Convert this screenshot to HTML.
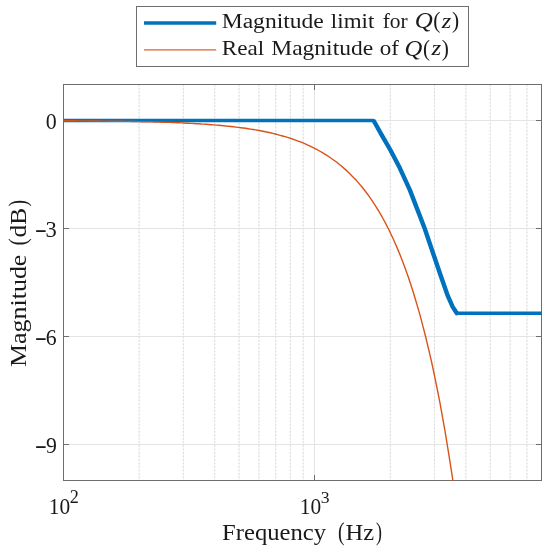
<!DOCTYPE html>
<html lang="en"><head><meta charset="utf-8"><title>Magnitude plot</title>
<style>html,body{margin:0;padding:0;background:#fff;}svg{display:block;}text{font-family:"Liberation Serif","DejaVu Serif",serif;fill:#1a1a1a;}.it{font-style:italic;}</style></head><body>
<svg width="547" height="550" viewBox="0 0 547 550">
<rect x="0" y="0" width="547" height="550" fill="#ffffff"/>
<g fill="none" stroke-width="1">
<path d="M139.11 84.5V480.5M183.34 84.5V480.5M214.72 84.5V480.5M239.06 84.5V480.5M258.95 84.5V480.5M275.76 84.5V480.5M290.33 84.5V480.5M303.18 84.5V480.5M390.28 84.5V480.5M434.51 84.5V480.5M465.89 84.5V480.5M490.23 84.5V480.5M510.12 84.5V480.5M526.93 84.5V480.5" stroke="#f4f4f4"/>
<path d="M139.11 84.5V480.5M183.34 84.5V480.5M214.72 84.5V480.5M239.06 84.5V480.5M258.95 84.5V480.5M275.76 84.5V480.5M290.33 84.5V480.5M303.18 84.5V480.5M390.28 84.5V480.5M434.51 84.5V480.5M465.89 84.5V480.5M490.23 84.5V480.5M510.12 84.5V480.5M526.93 84.5V480.5" stroke="#dadada" stroke-dasharray="1.7 1.8"/>
<path d="M314.5 84.5V480.5M63.5 120.5H541.5M63.5 228.5H541.5M63.5 336.5H541.5M63.5 444.5H541.5" stroke="#e3e3e3" shape-rendering="crispEdges"/>
</g>
<g fill="none" stroke="#6e6e6e" stroke-width="1" shape-rendering="crispEdges">
<rect x="63.5" y="84.5" width="478.0" height="396.0"/>
<path d="M314.5 480.5v-5.5M314.5 84.5v5.5M63.5 120.5h5.5M541.5 120.5h-5.5M63.5 228.5h5.5M541.5 228.5h-5.5M63.5 336.5h5.5M541.5 336.5h-5.5M63.5 444.5h5.5M541.5 444.5h-5.5"/>
</g>
<clipPath id="c"><rect x="63.5" y="84.5" width="478.5" height="396.5"/></clipPath>
<g clip-path="url(#c)" fill="none" stroke-linejoin="round" stroke-linecap="round">
<polyline points="374.0,121.3 381.6,134.9 390.1,149.5 399.7,167.8 409.8,189.9 418.5,212.4 424.7,228.5 434.1,256.3 439.7,272.8 447.8,295.9 452.7,306.9 456.8,313.2" stroke="#0072bd" stroke-width="4.4"/>
<path d="M63.5 120.4H373.7M457.3 313.2H542" stroke="#0072bd" stroke-width="3.5" stroke-linecap="butt"/>
<polyline points="63.5,120.8 66.0,120.8 68.4,120.8 70.9,120.8 73.3,120.8 75.8,120.8 78.3,120.9 80.7,120.9 83.2,120.9 85.7,120.9 88.1,120.9 90.6,121.0 93.0,121.0 95.5,121.0 98.0,121.0 100.4,121.0 102.9,121.1 105.4,121.1 107.8,121.1 110.3,121.2 112.7,121.2 115.2,121.2 117.7,121.3 120.1,121.3 122.6,121.3 125.0,121.4 127.5,121.4 130.0,121.4 132.4,121.5 134.9,121.5 137.4,121.6 139.8,121.6 142.3,121.7 144.7,121.7 147.2,121.8 149.7,121.8 152.1,121.9 154.6,122.0 157.0,122.0 159.5,122.1 162.0,122.2 164.4,122.3 166.9,122.4 169.4,122.4 171.8,122.5 174.3,122.6 176.7,122.7 179.2,122.8 181.7,122.9 184.1,123.0 186.6,123.2 189.1,123.3 191.5,123.4 194.0,123.5 196.4,123.7 198.9,123.8 201.4,124.0 203.8,124.1 206.3,124.3 208.7,124.5 211.2,124.7 213.7,124.9 216.1,125.1 218.6,125.3 221.1,125.5 223.5,125.7 226.0,126.0 228.4,126.2 230.9,126.5 233.4,126.8 235.8,127.1 238.3,127.4 240.7,127.7 243.2,128.0 245.7,128.3 248.1,128.7 250.6,129.1 253.1,129.5 255.5,129.9 258.0,130.3 260.4,130.8 262.9,131.3 265.4,131.8 267.8,132.3 270.3,132.8 272.8,133.4 275.2,134.0 277.7,134.6 280.1,135.3 282.6,136.0 285.1,136.7 287.5,137.4 290.0,138.2 292.4,139.0 294.9,139.9 297.4,140.8 299.8,141.7 302.3,142.7 304.8,143.7 307.2,144.8 309.7,145.9 312.1,147.1 314.6,148.3 317.1,149.6 319.5,151.0 322.0,152.4 324.4,153.8 326.9,155.4 329.4,157.0 331.8,158.7 334.3,160.5 336.8,162.3 339.2,164.2 341.7,166.3 344.1,168.4 346.6,170.6 349.1,172.9 351.5,175.4 354.0,177.9 356.5,180.6 358.9,183.4 361.4,186.3 363.8,189.3 366.3,192.5 368.8,195.9 371.2,199.4 373.7,203.1 376.1,206.9 378.6,210.9 381.1,215.1 383.5,219.5 386.0,224.1 388.5,229.0 390.9,234.0 393.4,239.3 395.8,244.8 398.3,250.6 400.8,256.7 403.2,263.1 405.7,269.7 408.2,276.7 410.6,284.0 413.1,291.7 415.5,299.7 418.0,308.1 420.5,316.9 422.9,326.1 425.4,335.7 427.8,345.8 430.3,356.4 432.8,367.5 435.2,379.2 437.7,391.4 440.2,404.2 442.6,417.6 445.1,431.6 447.5,446.3 450.0,461.8 452.5,478.0 454.9,494.9 457.4,512.7" stroke="#d95319" stroke-width="1.4"/>
</g>
<g fill="#0d0d0d">
<text font-size="21.33" transform="translate(45.86 128.68) scale(1.0287 1.0769)">0</text>
<text font-size="21.33" transform="translate(45.62 236.67) scale(1.0555 1.0816)">3</text>
<text font-size="21.33" transform="translate(36.33 239.52) scale(0.8671 1.6944)">–</text>
<text font-size="21.33" transform="translate(45.76 344.67) scale(1.0205 1.0816)">6</text>
<text font-size="21.33" transform="translate(36.33 347.52) scale(0.8671 1.6944)">–</text>
<text font-size="21.33" transform="translate(46.00 452.67) scale(1.0217 1.0816)">9</text>
<text font-size="21.33" transform="translate(36.33 455.52) scale(0.8671 1.6944)">–</text>
<text font-size="21.33" transform="translate(48.72 513.78) scale(1.0031 1.0491)">10</text>
<text font-size="17.07" transform="translate(69.70 503.30) scale(1.0668 1.0440)">2</text>
<text font-size="21.33" transform="translate(299.72 513.78) scale(1.0031 1.0491)">10</text>
<text font-size="17.07" transform="translate(320.65 503.13) scale(1.0353 1.0289)">3</text>
</g>
<g fill="#2b2b2b">
<text font-size="23.47" transform="translate(222.09 539.60) scale(1.0499 1.0000)">Frequency</text>
<text font-size="23.47" transform="translate(338.04 539.83) scale(0.8295 1.0949)">(</text>
<text font-size="23.47" transform="translate(345.49 539.60) scale(1.0447 1.0000)">Hz</text>
<text font-size="23.47" transform="translate(375.92 539.83) scale(0.7631 1.0949)">)</text>
<g transform="translate(25.9 366.2) rotate(-90)">
<text font-size="23.47" transform="translate(-0.75 0.00) scale(1.1049 1.0000)">Magnitude</text>
<text font-size="23.47" transform="translate(120.76 0.23) scale(0.9124 1.0949)">(</text>
<text font-size="23.47" transform="translate(128.79 0.00) scale(1.0789 1.0000)">dB</text>
<text font-size="23.47" transform="translate(159.66 0.23) scale(0.8461 1.0949)">)</text>
</g>
</g>
<rect x="136.5" y="6.5" width="332" height="60" fill="#fff" stroke="#6e6e6e" stroke-width="1" shape-rendering="crispEdges"/>
<line x1="144" y1="23" x2="216.2" y2="23" stroke="#0072bd" stroke-width="3.5"/>
<line x1="144" y1="49.8" x2="216.2" y2="49.8" stroke="#dc6230" stroke-width="1.2"/>
<text font-size="21.33" transform="translate(221.72 27.85) scale(1.1048 1.0000)">Magnitude</text>
<text font-size="21.33" transform="translate(330.84 27.85) scale(1.0794 1.0000)">limit</text>
<text font-size="21.33" transform="translate(382.64 27.85) scale(1.0072 1.0000)">for</text>
<text class="it" font-size="21.33" transform="translate(414.82 28.22) scale(1.1713 1.0921)">Q</text>
<text font-size="21.33" transform="translate(433.26 28.21) scale(1.0040 1.1220)">(</text>
<text class="it" font-size="21.33" transform="translate(441.77 27.85) scale(1.1381 1.0000)">z</text>
<text font-size="21.33" transform="translate(452.11 28.21) scale(1.0040 1.1220)">)</text>
<text font-size="21.33" transform="translate(221.73 55.15) scale(1.0855 1.0000)">Real</text>
<text font-size="21.33" transform="translate(271.22 55.15) scale(1.1037 1.0000)">Magnitude</text>
<text font-size="21.33" transform="translate(379.72 55.15) scale(1.0793 1.0000)">of</text>
<text class="it" font-size="21.33" transform="translate(404.54 55.52) scale(1.1568 1.0921)">Q</text>
<text font-size="21.33" transform="translate(422.98 55.51) scale(0.9857 1.1220)">(</text>
<text class="it" font-size="21.33" transform="translate(431.38 55.15) scale(1.1624 1.0000)">z</text>
<text font-size="21.33" transform="translate(441.81 55.51) scale(1.0040 1.1220)">)</text>
</svg></body></html>
